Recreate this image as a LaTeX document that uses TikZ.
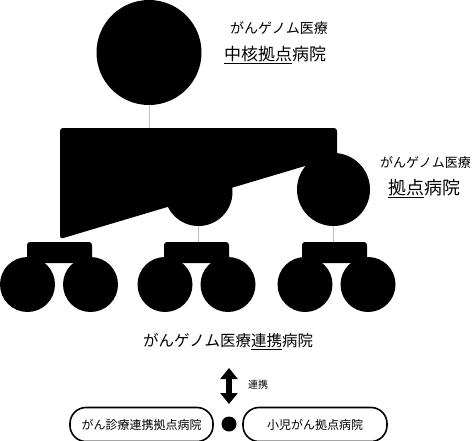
\documentclass[tikz,border=0pt]{standalone}
\usepackage{fontspec}
\setmainfont{Noto Sans CJK JP}
\usetikzlibrary{arrows.meta}
\begin{document}
\begin{tikzpicture}[x=1pt,y=-1pt,
  blob/.style={circle,fill=black,inner sep=0pt,minimum size=#1},
  link/.style={draw=black!25,line width=0.8pt},
  barbox/.style={rectangle,fill=black,rounded corners=3pt,inner sep=0pt,minimum width=65pt,minimum height=21pt},
  lbl/.style={anchor=west,inner sep=0pt,font=#1},
  pill/.style={draw=black,line width=1.6pt,rounded corners=16pt,fill=white}]
\useasboundingbox (0,0) rectangle (474,440);
% top
\node[blob=105pt] (top) at (149,52.5) {};
\coordinate (hub) at (149,128);
\fill[rounded corners=3pt] (60,128) -- (337,128) -- (337,160) -- (305,166) -- (60,239) -- cycle;
\node[blob=68pt] (mid) at (198.5,192) {};
\node[blob=73pt] (right) at (333.5,189.5) {};
\draw[link] (top.south) -- (hub);
% bottom groups
\node[barbox] (barA) at (59.5,252.5) {};
\node[barbox] (barB) at (196.5,252.5) {};
\node[barbox] (barC) at (334.5,252.5) {};
\foreach \n/\x in {a1/27.5,a2/90.5,b1/165,b2/228,c1/305,c2/368}
  \node[blob=55pt] (\n) at (\x,284.5) {};
\draw[link] (mid.south) -- (mid.south |- barB.north);
\draw[link] (right.south) -- (right.south |- barC.north);
% labels
\node[lbl=\fontsize{14}{16}\selectfont] (t1) at (230,28) {がんゲノム医療};
\node[lbl=\fontsize{17}{19}\selectfont] (t2) at (224,55) {\underline{中核拠点}病院};
\node[lbl=\fontsize{13}{15}\selectfont] (r1) at (380,163) {がんゲノム医療};
\node[lbl=\fontsize{18}{20}\selectfont] (r2) at (388,189) {\underline{拠点}病院};
\node[lbl=\fontsize{15.5}{18}\selectfont] (b1l) at (143,342) {がんゲノム医療\underline{連携}病院};
% arrow
\coordinate (aU) at (229,368);
\coordinate (aD) at (229,404);
\draw[line width=6pt,{Triangle[width=17pt,length=11pt]}-{Triangle[width=17pt,length=11pt]}] (aU) -- (aD);
\node[lbl=\fontsize{10}{12}\selectfont] (ren) at (248,385) {連携};
% bottom pills
\node[blob=15pt] (dot) at (229,424) {};
\node[pill,minimum width=143pt,minimum height=34pt,inner sep=0pt,font=\fontsize{12}{14}\selectfont] (left) at (141.5,424.5) {がん診療連携拠点病院};
\node[pill,minimum width=144pt,minimum height=34pt,inner sep=0pt,font=\fontsize{12}{14}\selectfont] (rightp) at (315,424.5) {小児がん拠点病院};
\end{tikzpicture}
\end{document}
